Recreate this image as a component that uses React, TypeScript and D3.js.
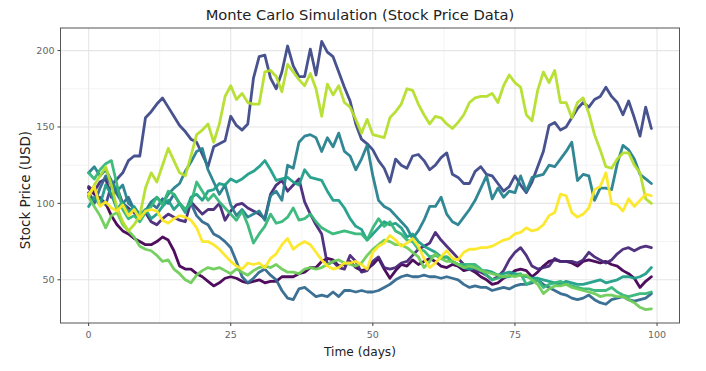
import React from 'react';
import * as d3 from 'd3';

// simulated price paths, one value per day
const path0 = [
  110, 106, 103, 100, 92, 86, 82, 80, 77, 75,
  73, 73, 75, 78, 76, 69, 59, 57, 57, 54,
  52, 49, 46, 48, 51, 52, 51, 49, 48, 49,
  50, 48, 49, 49, 52, 52, 52, 54, 55, 58,
  58, 62, 64, 63, 59, 60, 62, 58, 56, 57,
  60, 64, 57, 51, 56, 60, 59, 63, 60, 62,
  64, 62, 59, 58, 60, 59, 56, 57, 55, 52,
  50, 47, 48, 51, 53, 56, 57, 56, 52, 55,
  59, 62, 63, 62, 62, 61, 59, 62, 63, 62,
  61, 62, 60, 59, 56, 54, 51, 45, 49, 52
];
const path1 = [
  111, 108, 114, 116, 104, 110, 100, 97, 94, 90,
  94, 88, 86, 90, 93, 91, 89, 88, 101, 97,
  93, 96, 96, 100, 89, 95, 99, 100, 97, 95,
  93, 90, 106, 112, 115, 108, 112, 116, 101, 93,
  86, 80, 60, 62, 58, 57, 66, 62, 55, 56,
  62, 65, 58, 57, 58, 61, 62, 66, 70, 72,
  74, 81, 76, 72, 68, 64, 60, 57, 56, 55,
  53, 50, 52, 56, 63, 68, 71, 66, 59, 57,
  58, 59, 64, 62, 62, 62, 61, 63, 68, 65,
  63, 61, 63, 67, 70, 71, 69, 71, 72, 71
];
const path2 = [
  107, 101, 104, 99, 112, 116, 120, 128, 131, 131,
  156, 160, 165, 169, 163, 157, 151, 147, 142, 140,
  132, 124, 137, 139, 141, 157, 151, 148, 152, 182,
  196, 197, 182, 175, 186, 203, 190, 183, 183, 201,
  184, 206, 199, 196, 186, 176, 167, 152, 142, 139,
  135, 128, 123, 114, 129, 125, 123, 131, 132, 128,
  122, 125, 130, 133, 119, 117, 113, 113, 121, 124,
  119, 118, 113, 108, 111, 118, 112, 107, 114, 124,
  134, 151, 153, 148, 150, 156, 162, 166, 163, 168,
  170, 176, 170, 166, 158, 167, 156, 144, 163, 149
];
const path3 = [
  105, 100, 110, 118, 112, 106, 100, 104, 96, 90,
  95, 100, 97, 103, 100, 106, 100, 96, 100, 92,
  88, 86, 80, 78, 75, 71, 62, 52, 48, 51,
  55, 57, 53, 50, 43, 38, 37, 44, 45, 42,
  39, 40, 39, 42, 39, 43, 43, 42, 43, 42,
  42, 43, 45, 47, 50, 52, 53, 52, 52, 53,
  52, 52, 51, 52, 51, 50, 47, 45, 46, 45,
  45, 43, 44, 45, 44, 46, 47, 47, 48, 50,
  47, 45, 43, 41, 40, 38, 37, 38, 40, 37,
  35, 34, 37, 38, 39, 37, 36, 37, 38, 41
];
const path4 = [
  120, 124, 118, 122, 115, 108, 112, 100, 97, 93,
  95, 101, 104, 100, 106, 110, 113, 121, 127, 134,
  136, 122, 114, 106, 112, 99, 92, 96, 91, 93,
  95, 89, 105, 108, 102, 125, 123, 140, 144, 145,
  143, 134, 143, 137, 146, 134, 131, 122, 129, 138,
  118, 102, 98, 96, 92, 88, 84, 77, 82, 89,
  98, 98, 104, 93, 88, 86, 91, 96, 102, 110,
  118, 103, 110, 104, 108, 107, 118, 108, 117, 118,
  119, 125, 124, 129, 134, 140, 115, 119, 118, 102,
  110, 110, 109, 126, 138, 135, 129, 119, 116, 113
];
const path5 = [
  98, 104, 99, 112, 106, 96, 101, 94, 98, 92,
  96, 90, 93, 98, 102, 96, 100, 94, 104, 106,
  102, 108, 109, 113, 112, 116, 114, 116, 119, 121,
  124, 128, 122, 115, 116, 117, 114, 112, 122, 117,
  116, 115, 108, 102, 102, 97, 90, 85, 83, 76,
  80, 84, 88, 86, 87, 84, 78, 80, 75, 72,
  70, 68, 65, 65, 62, 60, 58, 57, 58, 56,
  56, 55, 53, 54, 55, 54, 53, 52, 51, 51,
  50, 49, 48, 47, 49, 48, 47, 47, 48, 49,
  50, 48, 49, 50, 52, 52, 51, 52, 54, 58
];
const path6 = [
  120, 116, 122, 126, 128, 112, 96, 90, 92, 88,
  94, 98, 104, 99, 108, 106, 100, 96, 100, 114,
  108, 102, 106, 101, 97, 93, 89, 95, 86, 74,
  80, 85, 93, 87, 88, 91, 97, 89, 90, 93,
  88, 84, 82, 80, 81, 82, 81, 80, 80, 76,
  84, 90, 85, 88, 82, 80, 76, 75, 70, 69,
  65, 66, 64, 65, 62, 60, 60, 60, 60, 57,
  53, 50, 51, 52, 52, 53, 54, 47, 49, 50,
  45, 47, 48, 49, 47, 46, 45, 44, 44, 43,
  43, 43, 45, 42, 40, 39, 40, 41, 41, 42
];
const path7 = [
  104, 98, 92, 84, 92, 94, 86, 82, 78, 72,
  70, 69, 66, 62, 63, 57, 54, 50, 48, 53,
  56, 58, 57, 58, 56, 54, 57, 55, 53, 56,
  58, 59, 58, 60, 57, 55, 55, 54, 57, 58,
  57, 58, 60, 62, 63, 61, 60, 59, 61, 66,
  70, 73, 76, 75, 73, 73, 71, 68, 65, 58,
  62, 67, 64, 62, 62, 60, 58, 59, 58, 56,
  55, 54, 53, 52, 53, 52, 53, 53, 50, 47,
  41, 44, 46, 46, 47, 45, 44, 43, 42, 41,
  39, 40, 40, 39, 39, 37, 35, 32, 30.5, 31
];
const path8 = [
  104, 112, 118, 124, 112, 97, 88, 82, 86, 92,
  110, 120, 114, 125, 136, 128, 120, 118, 131, 145,
  148, 152, 140, 152, 170, 177, 168, 172, 166, 165,
  165, 186, 187, 183, 173, 191, 186, 181, 177, 185,
  175, 157, 178, 171, 177, 166, 163, 155, 146, 155,
  145, 144, 143, 156, 160, 165, 175, 174, 165, 158,
  152, 157, 156, 152, 149, 153, 158, 166, 169, 170,
  170, 172, 166, 177, 184, 179, 176, 158, 154, 174,
  186, 179, 187, 166, 166, 156, 166, 169, 159, 145,
  135, 124, 123, 129, 133, 133, 125, 120, 103, 100
];
const path9 = [
  106, 111, 98, 101, 97, 95, 99, 92, 96, 90,
  95, 96, 95, 89, 87, 90, 92, 91, 89, 84,
  75, 75, 73, 70, 66, 62, 59, 57, 61, 60,
  61, 58, 64, 67, 73, 77, 70, 73, 75, 73,
  68, 63, 59, 57, 58, 61, 61, 62, 60, 57,
  68, 72, 74, 79, 76, 72, 74, 77, 72, 64,
  58, 61, 65, 69, 64, 63, 68, 70, 70, 71,
  71, 72, 74, 76, 77, 80, 81, 84, 82, 83,
  86, 92, 94, 106, 105, 94, 91, 93, 97, 109,
  111, 120, 100, 99, 95, 103, 98, 102, 106, 105
];

const paths = [path0, path1, path2, path3, path4, path5, path6, path7, path8, path9];
const colors = ['#440154', '#482878', '#3e4989', '#31688e', '#26828e',
  '#1f9e89', '#35b779', '#6ece58', '#b5de2b', '#fde725'];
const xTicks = [0, 25, 50, 75, 100];
const xMinor = [12.5, 37.5, 62.5, 87.5];
const yTicks = [50, 100, 150, 200];
const yMinor = [75, 125, 175];

const W = 706;
const H = 371;
const left = 60.5, right = 679.5, top = 28, bottom = 323;

export default function App() {
  const nDays = path0.length;
  const xPad = (nDays - 1) * 0.05;
  const x = d3.scaleLinear().domain([-xPad, nDays - 1 + xPad]).range([left, right]);

  const all = paths.flat();
  const lo = d3.min(all) as number;
  const hi = d3.max(all) as number;
  const yPad = (hi - lo) * 0.05;
  const y = d3.scaleLinear().domain([lo - yPad, hi + yPad]).range([bottom, top]);

  const line = d3.line<number>()
    .x((d, i) => x(i))
    .y(d => y(d));

  const font = 'DejaVu Sans, sans-serif';

  return (
    <svg width={W} height={H} style={{ position: 'absolute', left: 0, top: 0, background: '#fff' }}
      fontFamily={font}>
      <rect x={0} y={0} width={W} height={H} fill="#fff" />
      <text x={360} y={19.5} textAnchor="middle" fontSize={14.7} fill="#222">
        Monte Carlo Simulation (Stock Price Data)
      </text>

      <g>
        {xMinor.map(t => (
          <line key={'xm' + t} x1={x(t)} x2={x(t)} y1={top} y2={bottom} stroke="#f0f0f0" strokeWidth={0.8} />
        ))}
        {yMinor.map(t => (
          <line key={'ym' + t} x1={left} x2={right} y1={y(t)} y2={y(t)} stroke="#f0f0f0" strokeWidth={0.8} />
        ))}
        {xTicks.map(t => (
          <line key={'xg' + t} x1={x(t)} x2={x(t)} y1={top} y2={bottom} stroke="#e6e6e6" strokeWidth={1.1} />
        ))}
        {yTicks.map(t => (
          <line key={'yg' + t} x1={left} x2={right} y1={y(t)} y2={y(t)} stroke="#e6e6e6" strokeWidth={1.1} />
        ))}
      </g>

      <g fill="none" strokeLinejoin="round" strokeLinecap="round">
        {paths.map((p, i) => (
          <path key={i} d={line(p) || ''} stroke={colors[i]} strokeWidth={2.8} strokeOpacity={0.95} />
        ))}
      </g>

      <rect x={left} y={top} width={right - left} height={bottom - top} fill="none" stroke="#555" strokeWidth={1} />

      <g fontSize={9.5} fill="#666">
        {xTicks.map(t => (
          <g key={'xt' + t}>
            <line x1={x(t)} x2={x(t)} y1={bottom} y2={bottom + 3} stroke="#444" />
            <text x={x(t)} y={bottom + 15} textAnchor="middle">{t}</text>
          </g>
        ))}
        {yTicks.map(t => (
          <g key={'yt' + t}>
            <line x1={left - 3} x2={left} y1={y(t)} y2={y(t)} stroke="#444" />
            <text x={left - 6} y={y(t) + 3.3} textAnchor="end">{t}</text>
          </g>
        ))}
      </g>

      <text x={360} y={356} textAnchor="middle" fontSize={12.2} fill="#222">Time (days)</text>
      <text transform={`translate(30, 190) rotate(-90)`} textAnchor="middle" fontSize={13.5} fill="#222">
        Stock Price (USD)
      </text>
    </svg>
  );
}
